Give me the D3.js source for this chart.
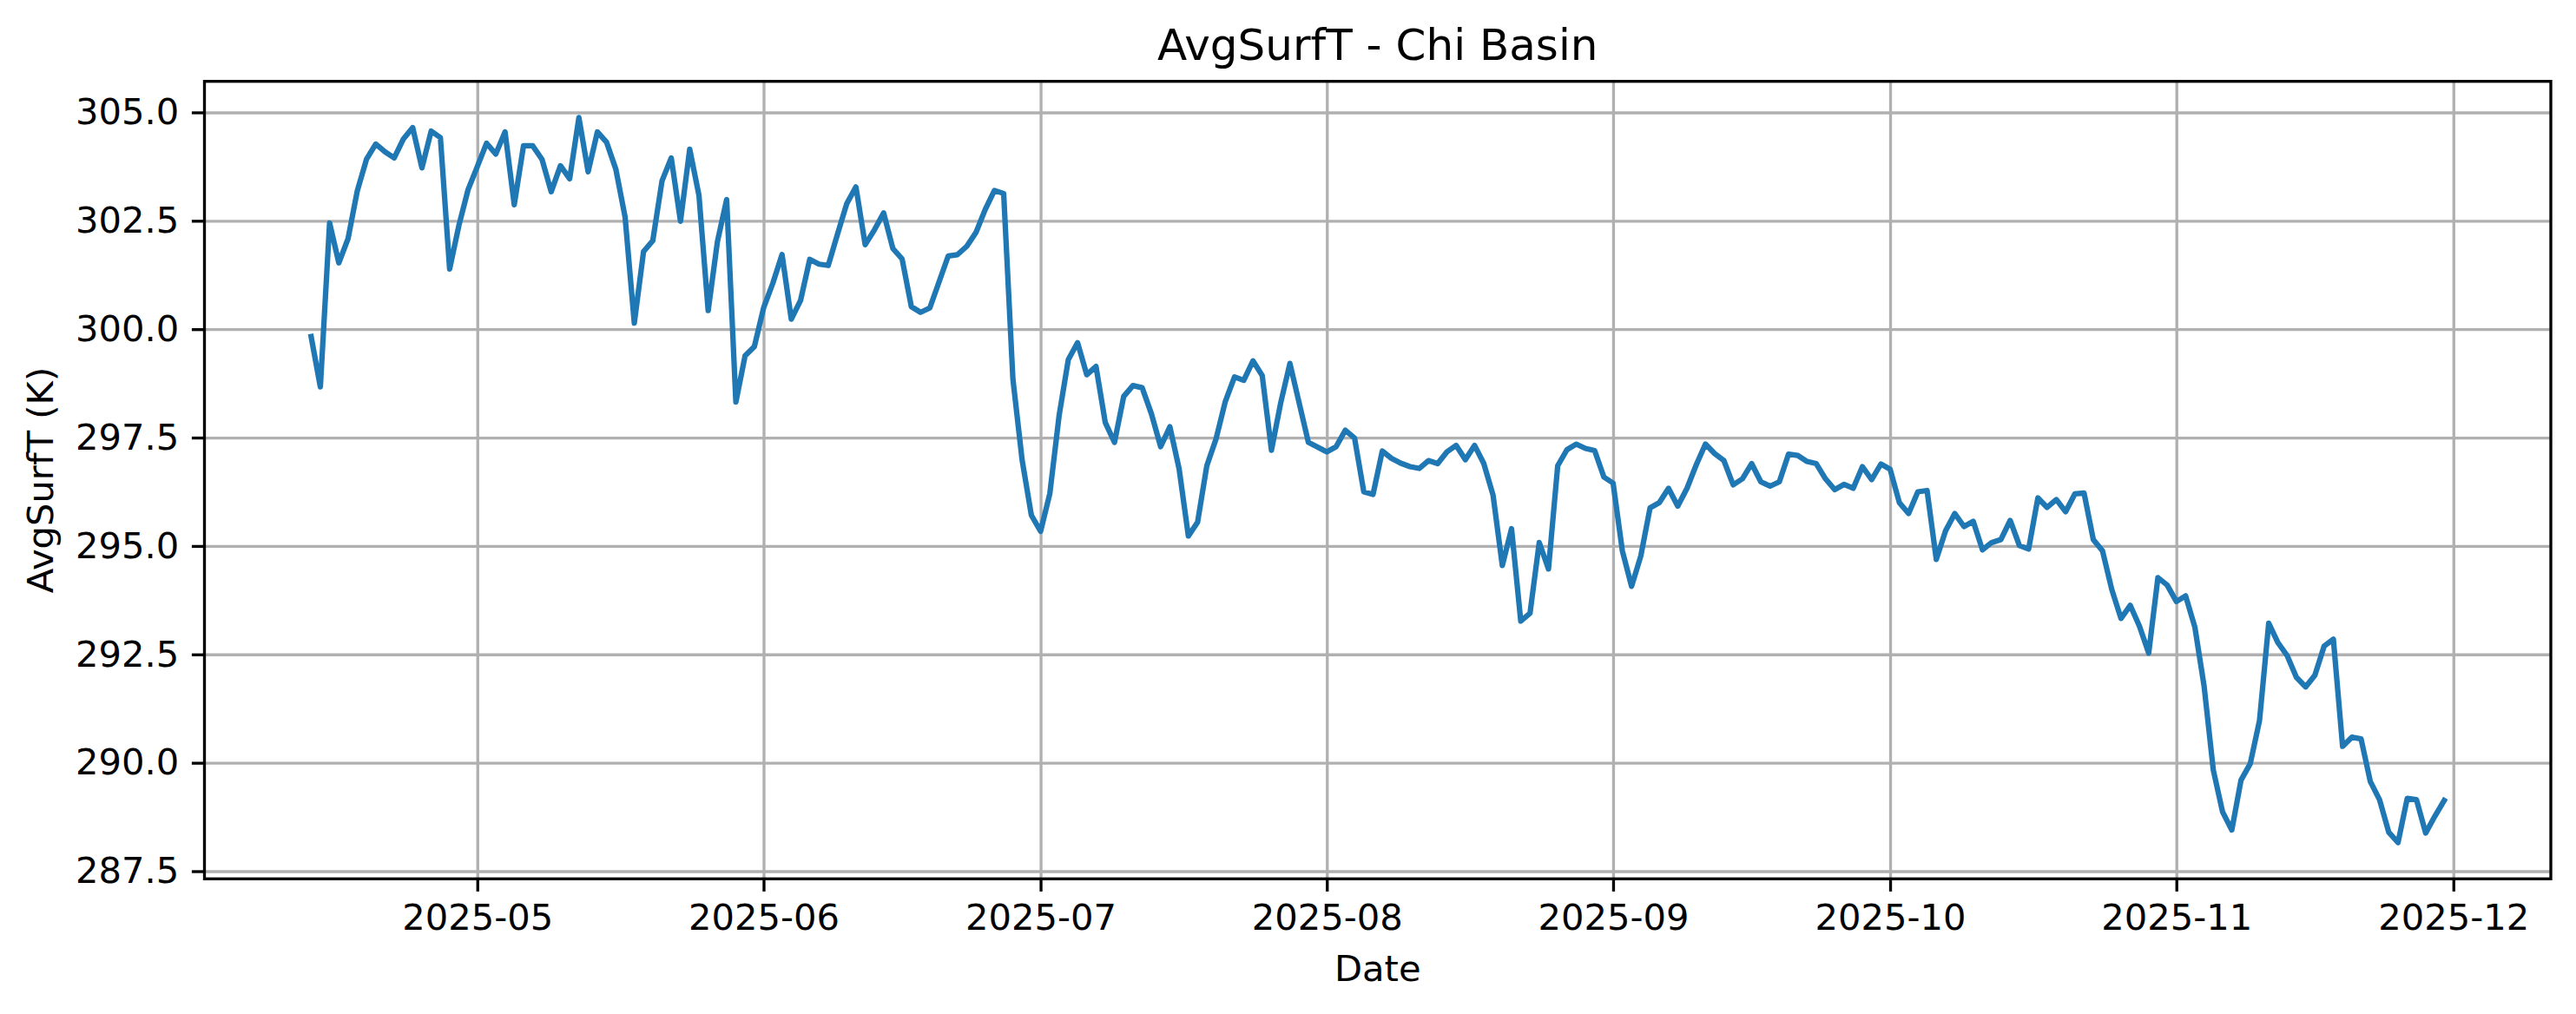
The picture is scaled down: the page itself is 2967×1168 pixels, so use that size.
<!DOCTYPE html>
<html>
<head>
  <meta charset="utf-8">
  <title>AvgSurfT - Chi Basin</title>
  <script src="https://d3js.org/d3.v7.min.js"></script>
  <style>
    body { margin: 0; background: #fff; }
    text { font-family: 'DejaVu Sans', sans-serif; fill: #000; }
    .axis text { font-size: 41.67px; }
    .axis line { stroke: #000; stroke-width: 3.33px; }
    .axis path { display: none; }
    .grid line { stroke: #b0b0b0; stroke-width: 3.33px; }
    .grid path { display: none; }
    .axis-label { font-size: 41.67px; text-anchor: middle; }
    .title { font-size: 50px; text-anchor: middle; }
    .spine { fill: none; stroke: #000; stroke-width: 3.33px; }
  </style>
</head>
<body>
  <div id="my_dataviz"></div>
  <script>
    // Daily values, first one is 2025-04-13
    var firstDay = new Date(Date.UTC(2025, 3, 13));
    var avgSurfT = [
      299.83, 298.67, 302.45, 301.53, 302.09, 303.19, 303.92, 304.27, 304.09, 303.95,
      304.39, 304.65, 303.72, 304.57, 304.42, 301.39, 302.39, 303.22, 303.75, 304.29,
      304.04, 304.55, 302.87, 304.23, 304.23, 303.92, 303.17, 303.77, 303.47, 304.88,
      303.63, 304.55, 304.31, 303.69, 302.59, 300.14, 301.79, 302.04, 303.42, 303.95,
      302.49, 304.15, 303.09, 300.43, 302.02, 302.99, 298.32, 299.39, 299.60, 300.49,
      301.06, 301.72, 300.23, 300.66, 301.61, 301.50, 301.47, 302.19, 302.89, 303.28,
      301.95, 302.29, 302.68, 301.86, 301.62, 300.52, 300.39, 300.49, 301.09, 301.69,
      301.72, 301.91, 302.23, 302.76, 303.20, 303.13, 298.85, 296.98, 295.71, 295.34,
      296.21, 298.00, 299.30, 299.69, 298.95, 299.14, 297.85, 297.39, 298.45, 298.70,
      298.65, 298.05, 297.29, 297.75, 296.78, 295.23, 295.55, 296.85, 297.47, 298.33,
      298.90, 298.82, 299.27, 298.93, 297.21, 298.30, 299.21, 298.30, 297.39, 297.28,
      297.17, 297.29, 297.67, 297.49, 296.25, 296.19, 297.19, 297.02, 296.91, 296.83,
      296.79, 296.97, 296.90, 297.17, 297.32, 296.99, 297.32, 296.90, 296.17, 294.55,
      295.40, 293.27, 293.45, 295.08, 294.47, 296.85, 297.22, 297.35, 297.25, 297.20,
      296.59, 296.45, 294.89, 294.07, 294.77, 295.88, 296.00, 296.33, 295.92, 296.33,
      296.87, 297.35, 297.13, 296.97, 296.41, 296.55, 296.90, 296.48, 296.38, 296.48,
      297.12, 297.09, 296.95, 296.90, 296.55, 296.30, 296.42, 296.33, 296.83, 296.53,
      296.89, 296.77, 296.00, 295.75, 296.25, 296.28, 294.69, 295.35, 295.75, 295.45,
      295.57, 294.91, 295.08, 295.15, 295.59, 295.01, 294.93, 296.11, 295.89, 296.07,
      295.79, 296.20, 296.22, 295.15, 294.89, 294.00, 293.33, 293.63, 293.15, 292.53,
      294.27, 294.10, 293.72, 293.85, 293.13, 291.77, 289.83, 288.87, 288.45, 289.60,
      289.98, 290.97, 293.22, 292.77, 292.47, 291.97, 291.75, 292.02, 292.69, 292.85,
      290.38, 290.59, 290.55, 289.57, 289.15, 288.40, 288.16, 289.18, 289.15, 288.38,
      288.77, 289.13
    ];
    var monthTicks = ["2025-05", "2025-06", "2025-07", "2025-08", "2025-09", "2025-10", "2025-11", "2025-12"];
    var tempTicks = [287.5, 290, 292.5, 295, 297.5, 300, 302.5, 305];

    var width = 2967, height = 1168;
    var margin = {top: 93.7, right: 29, bottom: 155.7, left: 235.5};
    var innerW = width - margin.left - margin.right;
    var innerH = height - margin.top - margin.bottom;

    var svg = d3.select("#my_dataviz")
      .append("svg")
        .attr("width", width)
        .attr("height", height)
        .style("display", "block");

    var rows = avgSurfT.map(function(v, i) {
      return {date: d3.utcDay.offset(firstDay, i), value: v};
    });

    // matplotlib style 5% margins round the data
    var dayPad = (avgSurfT.length - 1) * 0.05;
    var x = d3.scaleUtc()
      .domain([d3.utcDay.offset(firstDay, 0).getTime() - dayPad * 864e5,
               d3.utcDay.offset(firstDay, avgSurfT.length - 1).getTime() + dayPad * 864e5])
      .range([margin.left, width - margin.right]);
    var ext = d3.extent(avgSurfT);
    var yPad = (ext[1] - ext[0]) * 0.05;
    var y = d3.scaleLinear()
      .domain([ext[0] - yPad, ext[1] + yPad])
      .range([height - margin.bottom, margin.top]);

    var parseMonth = d3.utcParse("%Y-%m");
    var monthDates = monthTicks.map(parseMonth);

    // Grid
    svg.append("g")
      .attr("class", "grid")
      .attr("transform", "translate(0," + (height - margin.bottom) + ")")
      .call(d3.axisBottom(x).tickValues(monthDates).tickSize(-innerH).tickFormat(""));
    svg.append("g")
      .attr("class", "grid")
      .attr("transform", "translate(" + margin.left + ",0)")
      .call(d3.axisLeft(y).tickValues(tempTicks).tickSize(-innerW).tickFormat(""));

    // Line
    svg.append("path")
      .datum(rows)
      .attr("fill", "none")
      .attr("stroke", "#1f77b4")
      .attr("stroke-width", 6.25)
      .attr("stroke-linejoin", "round")
      .attr("stroke-linecap", "square")
      .attr("d", d3.line()
        .x(function(d) { return x(d.date); })
        .y(function(d) { return y(d.value); }));

    // Axes
    svg.append("g")
      .attr("class", "axis")
      .attr("transform", "translate(0," + (height - margin.bottom) + ")")
      .call(d3.axisBottom(x).tickValues(monthDates).tickSize(14.6).tickPadding(15)
        .tickFormat(d3.utcFormat("%Y-%m")));
    svg.append("g")
      .attr("class", "axis")
      .attr("transform", "translate(" + margin.left + ",0)")
      .call(d3.axisLeft(y).tickValues(tempTicks).tickSize(14.6).tickPadding(14.6)
        .tickFormat(d3.format(".1f")));

    svg.append("rect")
      .attr("class", "spine")
      .attr("x", margin.left)
      .attr("y", margin.top)
      .attr("width", innerW)
      .attr("height", innerH);

    // Labels
    svg.append("text")
      .attr("class", "title")
      .attr("x", margin.left + innerW / 2)
      .attr("y", 69)
      .text("AvgSurfT - Chi Basin");
    svg.append("text")
      .attr("class", "axis-label")
      .attr("x", margin.left + innerW / 2)
      .attr("y", 1130)
      .text("Date");
    svg.append("text")
      .attr("class", "axis-label")
      .attr("transform", "translate(61," + (margin.top + innerH / 2) + ") rotate(-90)")
      .text("AvgSurfT (K)");
  </script>
</body>
</html>
